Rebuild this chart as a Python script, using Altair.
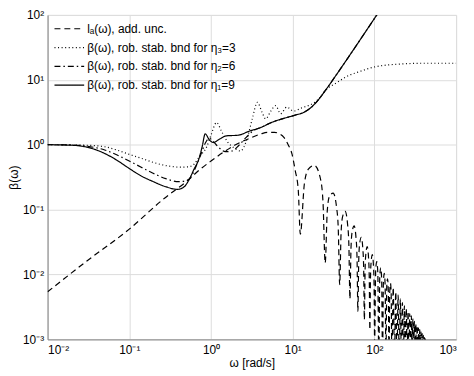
import altair as alt
import pandas as pd

# ---------------- data ----------------
S_LA = "lₐ(ω), add. unc."
S_3 = "β(ω), rob. stab. bnd for η₃=3"
S_2 = "β(ω), rob. stab. bnd for η₂=6"
S_1 = "β(ω), rob. stab. bnd for η₁=9"
series_order = [S_LA, S_3, S_2, S_1]

# additive uncertainty weight l_a(w)
w_la = [0.01, 0.03, 0.1, 0.27, 0.5, 0.74, 1.0, 1.5, 2.0, 2.95, 4.0, 4.9, 6.0, 6.8, 7.8, 8.8, 9.8, 10.7, 11.7,
        12.4, 13.9, 15.55, 18.4, 21.85, 23.5,
        25.0, 26.5, 28.15, 31.3, 34.45, 36.1,
        37.6, 39.1, 40.75, 43.9, 47.05, 48.7,
        50.2, 51.7, 53.35, 56.5, 59.65, 61.3,
        62.8, 64.3, 65.95, 69.1, 72.25, 73.9,
        75.4, 76.9, 78.55, 81.7, 84.85, 86.5,
        88.0, 89.5, 91.15, 94.3, 97.45, 99.1,
        100.6, 103.75, 106.9, 110.05,
        113.2, 116.35, 119.5, 122.65,
        125.8, 128.95, 132.1, 135.25,
        138.4, 141.55, 144.7, 147.85,
        151.0, 154.15, 157.3, 160.45,
        163.6, 169.9, 176.2, 182.5, 188.8, 195.1, 201.4, 207.7, 214.0, 220.3,
        226.6, 232.9, 239.2, 245.5, 251.8, 258.1, 264.4, 270.7, 277.0, 283.3,
        289.6, 295.9, 302.2, 308.5, 314.8, 321.1, 327.4, 333.7, 340.0, 346.3,
        352.6, 358.9, 365.2, 371.5, 377.8, 384.1, 390.4, 396.7, 403.0, 409.3,
        415.6, 421.9, 428.2, 434.5, 440.8]
v_la = [0.0054, 0.016, 0.05, 0.15, 0.27, 0.42, 0.56, 0.8, 1.0, 1.25, 1.45, 1.55, 1.55, 1.48, 1.3, 1.0, 0.72, 0.41, 0.2,
        0.042, 0.25, 0.42, 0.48, 0.30, 0.13,
        0.015, 0.096, 0.16, 0.18, 0.108, 0.052,
        0.007, 0.044, 0.077, 0.094, 0.058, 0.0285,
        0.0042, 0.0253, 0.045, 0.056, 0.036, 0.018,
        0.0027, 0.0164, 0.0294, 0.0375, 0.0245, 0.0124,
        0.002, 0.0114, 0.0207, 0.027, 0.0178, 0.009,
        0.0014, 0.0085, 0.0154, 0.0203, 0.0135, 0.0069,
        0.0009, 0.0119, 0.0158, 0.0106,
        0.0005, 0.00945, 0.0127, 0.0085,
        0.0005, 0.0077, 0.0104, 0.007,
        0.0005, 0.0064, 0.0086, 0.00585,
        0.0005, 0.0054, 0.0073, 0.005,
        0.0005, 0.0063, 0.0005, 0.0054, 0.0005, 0.0048, 0.0005, 0.0042, 0.0005, 0.0037,
        0.0005, 0.0033, 0.0005, 0.0030, 0.0005, 0.0027, 0.0005, 0.0025, 0.0005, 0.0023,
        0.0005, 0.0021, 0.0005, 0.0019, 0.0005, 0.00176, 0.0005, 0.00163, 0.0005, 0.00151,
        0.0005, 0.00141, 0.0005, 0.00131, 0.0005, 0.00123, 0.0005, 0.00115, 0.0005, 0.00108,
        0.0005, 0.00102, 0.0005, 0.00096, 0.0005]

# eta3 = 3 (dotted)
w_3 = [0.01, 0.03, 0.05, 0.07, 0.1, 0.15, 0.2, 0.3, 0.44, 0.55, 0.62, 0.72, 0.89, 1.0, 1.17, 1.35, 1.6, 1.9,
       2.3, 2.8, 3.2, 3.7, 4.2, 4.67, 5.4, 6.2, 7.1, 8.5, 10.2, 12.9, 15.5, 18.6, 22.3, 24.6, 35.4, 51.0,
       61.5, 98.0, 150.0, 224.0, 400.0, 1000.0]
v_3 = [1.0, 0.98, 0.93, 0.83, 0.71, 0.6, 0.53, 0.47, 0.45, 0.46, 0.5, 0.65, 0.94, 1.4, 2.2, 1.6, 1.1, 0.9,
       0.8, 1.3, 2.5, 4.5, 3.2, 2.5, 3.3, 4.0, 3.0, 3.8, 3.3, 3.7, 4.0, 4.5, 5.6, 6.6, 9.2, 12.0,
       13.0, 15.7, 17.0, 17.6, 18.0, 18.0]

# eta2 = 6 (dash-dot)
w_2 = [0.01, 0.02, 0.03, 0.05, 0.07, 0.1, 0.14, 0.19, 0.28, 0.4, 0.5, 0.57, 0.65, 0.75, 0.85, 0.95, 1.05, 1.2,
       1.5, 1.8, 2.2, 2.7, 3.2, 4.1, 5.5, 7.4, 10.7, 14.0, 17.0, 20.0, 25.0, 35.4, 50.0, 70.0, 100.0, 150.0]
v_2 = [1.0, 0.99, 0.95, 0.83, 0.7, 0.56, 0.45, 0.37, 0.3, 0.27, 0.28, 0.32, 0.45, 0.7, 1.05, 1.25, 1.15, 0.95,
       0.78, 0.8, 0.98, 1.3, 1.6, 1.85, 2.2, 2.5, 2.85, 3.2, 3.8, 4.7, 6.8, 12.7, 24.0, 45.0, 88.0, 190.0]

# eta1 = 9 (solid)
w_1 = [0.01, 0.02, 0.03, 0.047, 0.07, 0.1, 0.14, 0.19, 0.28, 0.39, 0.47, 0.54, 0.62, 0.71, 0.78, 0.85, 0.95,
       1.07, 1.25, 1.55, 2.14, 2.95, 4.1, 5.5, 7.4, 10.7, 14.0, 17.0, 20.0, 25.0, 35.4, 50.0, 70.0, 100.0, 150.0]
v_1 = [1.0, 0.98, 0.92, 0.76, 0.58, 0.43, 0.33, 0.275, 0.225, 0.205, 0.225, 0.29, 0.42, 0.6, 0.93, 1.47, 1.2,
       1.08, 1.2, 1.37, 1.4, 1.62, 1.85, 2.2, 2.5, 2.85, 3.2, 3.8, 4.7, 6.8, 12.7, 24.0, 45.0, 88.0, 190.0]

x_ticks = [0.01, 0.1, 1, 10, 100, 1000]
y_ticks = [0.001, 0.01, 0.1, 1, 10, 100]
exp_labels = {-3: "10⁻³", -2: "10⁻²", -1: "10⁻¹", 0: "10⁰", 1: "10¹", 2: "10²", 3: "10³"}

# ---------------- build table ----------------
rows = []
for name, ws, vs in [(S_LA, w_la, v_la), (S_3, w_3, v_3), (S_2, w_2, v_2), (S_1, w_1, v_1)]:
    for i, (w, v) in enumerate(zip(ws, vs)):
        rows.append({"w": w, "v": v, "series": name, "idx": i})
df = pd.DataFrame(rows)


def label_expr(ticks):
    import math
    expr = "''"
    for t in reversed(ticks):
        e = int(round(math.log10(t)))
        expr = f"round(log(datum.value)/LN10) == {e} ? '{exp_labels[e]}' : " + expr
    return expr


FONT = "Liberation Sans"
axis_common = dict(ticks=False, labelFont=FONT, titleFont=FONT, labelFontSize=12,
                   titleFontSize=12, titleFontWeight="normal", labelColor="black", titleColor="black")

chart = alt.Chart(df).mark_line(clip=True, color="black", strokeWidth=1.2, interpolate="monotone").encode(
    x=alt.X("w:Q", scale=alt.Scale(type="log", domain=[0.01, 1000], nice=False),
            axis=alt.Axis(values=x_ticks, labelExpr=label_expr(x_ticks), title="ω [rad/s]",
                          labelPadding=5, titlePadding=2, **axis_common)),
    y=alt.Y("v:Q", scale=alt.Scale(type="log", domain=[0.001, 100], nice=False),
            axis=alt.Axis(values=y_ticks, labelExpr=label_expr(y_ticks), title="β(ω)",
                          labelPadding=4, titlePadding=2, **axis_common)),
    strokeDash=alt.StrokeDash("series:N",
                              scale=alt.Scale(domain=series_order,
                                              range=[[6, 4], [1, 2.6], [6, 3, 1.5, 3], [1, 0]]),
                              legend=alt.Legend(title=None, orient="none", legendX=16, legendY=8,
                                                symbolType="M-3,0H3", symbolSize=100,
                                                symbolStrokeWidth=1.2, symbolStrokeColor="black",
                                                labelFontSize=12, labelFont=FONT, labelColor="black",
                                                labelOffset=12, labelLimit=300, rowPadding=7,
                                                padding=0)),
    order="idx:Q",
    detail="series:N",
).properties(
    width=413, height=328,
    padding={"left": 40, "top": 5, "right": 10, "bottom": 33},
    autosize=alt.AutoSizeParams(type="none"),
).configure_view(
    stroke="black", strokeWidth=1
).configure_axis(
    domain=False, grid=True, gridColor="#a8a8a8", gridDash=[1, 3], gridWidth=0.8,
    labelFlush=False,
).configure(background="white")

chart.save("out.html", embed_options={"renderer": "svg", "actions": False})
